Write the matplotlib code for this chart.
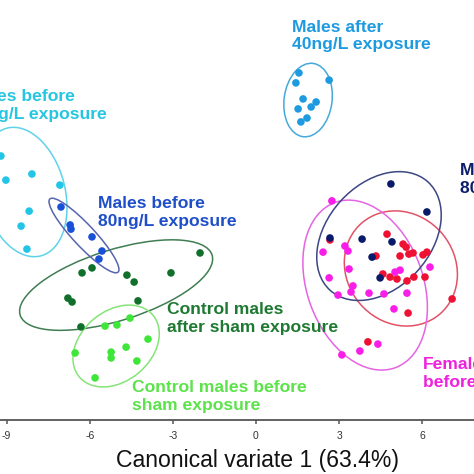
import matplotlib
matplotlib.use("Agg")
import matplotlib.pyplot as plt
from matplotlib.patches import Ellipse

plt.rcParams['font.family'] = ['Liberation Sans', 'DejaVu Sans']
plt.rcParams['axes.unicode_minus'] = False

# Canonical variate scores (x = CV1, y = CV2)
before40_x = [-9.21, -9.03, -8.09, -7.08, -8.19, -8.48, -8.27]
before40_y = [3.61, 2.74, 2.96, 2.56, 1.62, 1.08, 0.25]

after40_x = [1.55, 1.44, 2.64, 1.70, 2.17, 1.52, 1.99, 1.84, 1.62]
after40_y = [6.61, 6.25, 6.35, 5.67, 5.56, 5.31, 5.38, 4.98, 4.84]

before80_x = [-7.04, -6.71, -6.68, -5.92, -5.56, -5.67]
before80_y = [1.77, 1.12, 0.97, 0.69, 0.18, -0.11]

ctrl_after_x = [-2.02, -3.07, -5.92, -6.28, -4.66, -4.40, -6.79, -6.64, -4.26, -6.32]
ctrl_after_y = [0.11, -0.61, -0.43, -0.61, -0.69, -0.94, -1.52, -1.66, -1.62, -2.56]

ctrl_before_x = [-5.45, -5.02, -4.55, -3.90, -4.69, -5.23, -5.23, -4.30, -6.53, -5.81]
ctrl_before_y = [-2.53, -2.49, -2.24, -3.00, -3.29, -3.47, -3.68, -3.79, -3.50, -4.40]

after80_x = [4.87, 6.17, 2.67, 3.83, 4.91, 4.19, 4.48]
after80_y = [2.60, 1.59, 0.65, 0.61, 0.51, -0.04, -0.79]

fem_after_x = [2.67, 4.73, 5.31, 5.42, 5.20, 5.52, 5.67, 6.03, 6.17, 4.33,
               4.58, 4.84, 5.09, 5.45, 5.70, 6.10, 7.08, 5.49, 4.04]
fem_after_y = [0.58, 0.79, 0.43, 0.32, 0.00, 0.07, 0.11, 0.04, 0.14, 0.00,
               -0.65, -0.76, -0.83, -0.90, -0.76, -0.76, -1.55, -2.06, -3.10]

fem_before_x = [2.74, 2.42, 3.21, 3.32, 3.36, 2.64, 3.50, 3.43, 2.96, 4.08,
                4.62, 5.02, 5.20, 5.45, 6.28, 4.98, 4.40, 3.75, 3.10]
fem_before_y = [1.99, 0.14, 0.36, 0.18, -0.47, -0.79, -1.08, -1.30, -1.41, -1.34,
                -1.37, -0.58, -0.51, -1.34, -0.40, -1.91, -3.18, -3.43, -3.57]

# 95% ellipses: centre x, centre y, width, height, angle
ell_before40 = (-8.38, 2.31, 2.96, 4.77, 15)
ell_after40 = (1.88, 5.63, 1.73, 2.67, -8)
ell_before80 = (-6.21, 0.74, 3.61, 0.78, -47)
ell_ctrl_after = (-5.05, -1.05, 7.26, 2.56, 17.4)
ell_ctrl_before = (-5.05, -3.25, 3.47, 2.53, 40)
ell_after80 = (4.44, 0.72, 5.27, 3.75, 48)
ell_fem_after = (5.23, -0.45, 4.33, 3.90, -50)
ell_fem_before = (3.94, -1.05, 4.19, 6.35, 20)

xticks = [-9, -6, -3, 0, 3, 6]

groups = [
    # x, y, point colour, ellipse, ellipse colour
    (before40_x, before40_y, '#22c5e5', ell_before40, '#5dd3ea'),
    (after40_x, after40_y, '#1e9be0', ell_after40, '#45a9dc'),
    (ctrl_after_x, ctrl_after_y, '#116f2c', ell_ctrl_after, '#3f7d52'),
    (ctrl_before_x, ctrl_before_y, '#3fe63a', ell_ctrl_before, '#85e478'),
    (before80_x, before80_y, '#1a4fd8', ell_before80, '#5565b0'),
    (fem_after_x, fem_after_y, '#ee1133', ell_fem_after, '#e25266'),
    (fem_before_x, fem_before_y, '#f81ee8', ell_fem_before, '#e564e2'),
    (after80_x, after80_y, '#0a1a6a', ell_after80, '#3c4682'),
]

fig = plt.figure(figsize=(4.74, 4.74), dpi=100)
ax = fig.add_axes([0, 54 / 474, 1, 420 / 474])

for gx, gy, col, ell, ecol in groups:
    e = Ellipse((ell[0], ell[1]), ell[2], ell[3], angle=ell[4],
                fill=False, edgecolor=ecol, linewidth=1.1, zorder=2)
    ax.add_patch(e)
for gx, gy, col, ell, ecol in groups:
    ax.scatter(gx, gy, s=30, color=col, edgecolors='none', zorder=3)

# group labels
lab = dict(fontsize=12.6, fontweight='bold', ha='left', va='center', linespacing=1.2)
ax.text(1.30, 7.94, 'Males after\n40ng/L exposure', color='#1e9be0', **lab)
ax.text(-10.40, 5.43, 'Males before\n40ng/L exposure', color='#26c6e0', **lab)
ax.text(-5.70, 1.57, 'Males before\n80ng/L exposure', color='#1f4fc8', **lab)
ax.text(-3.21, -2.26, 'Control males\nafter sham exposure', color='#1e7a32', **lab)
ax.text(-4.48, -5.07, 'Control males before\nsham exposure', color='#5ce24a', **lab)
ax.text(6.03, -4.24, 'Females\nbefore exposure', color='#ee22dd', **lab)
ax.text(7.36, 2.76, 'Males after\n80ng/L exposure', color='#0c1d6b', **lab)

ax.set_xlim(-256 / 27.7, 218 / 27.7)
ax.set_ylim(-164 / 27.7, 256 / 27.7)
ax.set_xticks(xticks)
ax.set_xticklabels([str(t) for t in xticks])
ax.set_yticks([])
for side in ['top', 'left', 'right']:
    ax.spines[side].set_visible(False)
ax.spines['bottom'].set_color('#555555')
ax.spines['bottom'].set_linewidth(1.3)
ax.tick_params(axis='x', direction='out', length=3, width=1.1, color='#555555',
               labelsize=7.5, labelcolor='#333333', pad=5)
ax.patch.set_alpha(0)

fig.text(257 / 474, 1 - 461 / 474, 'Canonical variate 1 (63.4%)', fontsize=16.6,
         ha='center', va='center', color='#111111')

plt.savefig('out.png', dpi=100)
